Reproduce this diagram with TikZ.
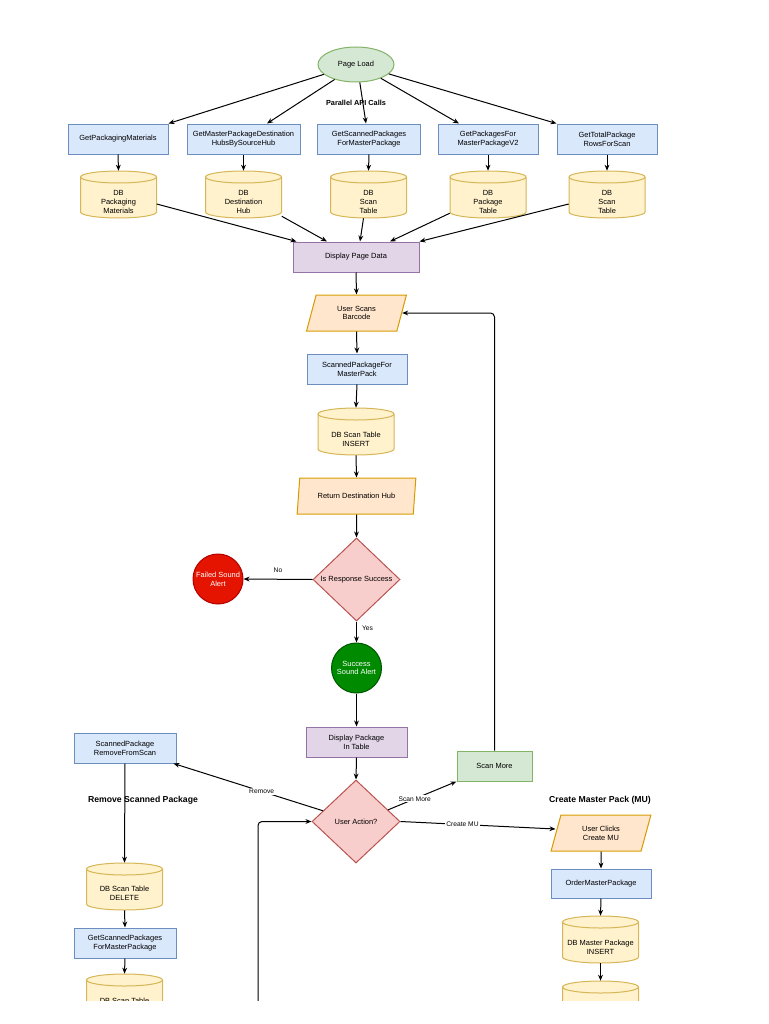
\documentclass[tikz,border=0pt]{standalone}
\usepackage{fontspec}
\setmainfont{Liberation Sans}
\usetikzlibrary{shapes.geometric,arrows.meta,calc}
\definecolor{blueF}{HTML}{DAE8FC}\definecolor{blueS}{HTML}{6C8EBF}
\definecolor{grnF}{HTML}{D5E8D4}\definecolor{grnS}{HTML}{82B366}
\definecolor{ylF}{HTML}{FFF2CC}\definecolor{ylS}{HTML}{D6B656}
\definecolor{orF}{HTML}{FFE6CC}\definecolor{orS}{HTML}{D79B00}
\definecolor{puF}{HTML}{E1D5E7}\definecolor{puS}{HTML}{9673A6}
\definecolor{pkF}{HTML}{F8CECC}\definecolor{pkS}{HTML}{B85450}
\definecolor{rdF}{HTML}{E51400}\definecolor{rdS}{HTML}{B20000}
\definecolor{dgF}{HTML}{008A00}\definecolor{dgS}{HTML}{005700}
\newcommand\pxu{0.75pt}
\newcommand\dbcyl[5]{%
  \path[cylshape] (#2-38,#3+6) -- (#2-38,#3+41) arc[start angle=180,end angle=0,x radius=38,y radius=6] -- (#2+38,#3+6) arc[start angle=0,end angle=-180,x radius=38,y radius=6] -- cycle;
  \draw[cylshape, fill=none] (#2-38,#3+6) arc[start angle=180,end angle=0,x radius=38,y radius=6];
  \node[cylnode] (#1) at (#2,#3+23.5) {};
  \node[base] (#1t) at (#2,#3+#5) {#4};
}
\begin{document}
\begin{tikzpicture}[x=0.75pt,y=-0.75pt,
  base/.style={font=\fontsize{5.6}{6.6}\selectfont, align=center, inner sep=0pt, line width=0.75pt},
  W/.style={minimum width=#1*\pxu},
  bluebox/.style={base, rectangle, draw=blueS, fill=blueF, minimum height=30*\pxu},
  purplebox/.style={base, rectangle, draw=puS, fill=puF, minimum height=30*\pxu},
  greenbox/.style={base, rectangle, draw=grnS, fill=grnF, minimum height=30*\pxu},
  para/.style={base, trapezium, trapezium left angle=72, trapezium right angle=108, trapezium stretches=true, draw=orS, fill=orF, minimum height=36*\pxu},
  dia/.style={base, diamond, draw=pkS, fill=pkF},
  circ/.style={base, circle, minimum size=50*\pxu, text=white},
  cylshape/.style={draw=ylS, fill=ylF, line width=0.75pt},
  cylnode/.style={rectangle, inner sep=0pt, minimum width=76*\pxu, minimum height=47*\pxu},
  conn/.style={line width=0.75pt, -{Stealth[length=4.5pt,width=3.6pt]}},
  elab/.style={font=\fontsize{5}{6}\selectfont, fill=white, inner sep=0.8pt},
  head/.style={font=\fontsize{6.5}{8}\selectfont\bfseries, inner sep=0pt}
]
\useasboundingbox (0,0) rectangle (768,1024);
\begin{scope}
\clip (0,0) rectangle (768,1000);

% top
\node[base, ellipse, draw=grnS, fill=grnF, minimum width=76*\pxu, minimum height=35*\pxu] (pl) at (356,64.5) {Page Load};
\node[base, font=\fontsize{5.5}{6.6}\selectfont\bfseries] (lblpar) at (356,103) {Parallel API Calls};

\node[bluebox, W=100] (b1) at (118,139) {GetPackagingMaterials};
\node[bluebox, W=113] (b2) at (243.5,139) {GetMasterPackageDestination\\HubsBySourceHub};
\node[bluebox, W=103] (b3) at (369,139) {GetScannedPackages\\ForMasterPackage};
\node[bluebox, W=100] (b4) at (488,139) {GetPackagesFor\\MasterPackageV2};
\node[bluebox, W=100] (b5) at (607,139) {GetTotalPackage\\RowsForScan};

\dbcyl{c1}{118.5}{171}{DB\\Packaging\\Materials}{31}
\dbcyl{c2}{243.5}{171}{DB\\Destination\\Hub}{31}
\dbcyl{c3}{368.5}{171}{DB\\Scan\\Table}{31}
\dbcyl{c4}{488}{171}{DB\\Package\\Table}{31}
\dbcyl{c5}{607}{171}{DB\\Scan\\Table}{31}

\node[purplebox, W=126] (dpd) at (356,257) {Display Page Data};

\node[para, minimum width=100*\pxu] (usb) at (356.5,313) {User Scans\\Barcode};
\node[bluebox, W=100] (spm) at (357,369) {ScannedPackageFor\\MasterPack};
\dbcyl{cins}{356}{408}{DB Scan Table\\INSERT}{31}
\node[para, minimum width=119*\pxu] (rdh) at (356.5,496) {Return Destination Hub};

\node[dia, minimum width=87*\pxu, minimum height=83*\pxu] (irs) at (356.5,579.5) {Is Response Success};
\node[circ, draw=rdS, fill=rdF] (fail) at (218,579) {Failed Sound\\Alert};
\node[circ, draw=dgS, fill=dgF] (succ) at (356.5,668) {Success\\Sound Alert};

\node[purplebox, W=101] (dpt) at (356.5,742) {Display Package\\In Table};
\node[dia, minimum width=88*\pxu, minimum height=83*\pxu] (ua) at (356,821.5) {User Action?};

% left branch
\node[bluebox, W=102] (rm) at (125,748) {ScannedPackage\\RemoveFromScan};
\node[head] (hrem) at (143,800) {Remove Scanned Package};
\dbcyl{cdel}{124.5}{863}{DB Scan Table\\DELETE}{30}
\node[bluebox, W=102] (gsp) at (125,943) {GetScannedPackages\\ForMasterPackage};
\dbcyl{clast}{124.5}{974}{DB Scan Table}{27}

% right branch
\node[greenbox, W=75] (sm) at (494.5,766) {Scan More};
\node[head] (hcmp) at (600,800) {Create Master Pack (MU)};
\node[para, minimum width=100*\pxu] (ucc) at (601,833) {User Clicks\\Create MU};
\node[bluebox, W=100, minimum height=29*\pxu] (omp) at (601,883.5) {OrderMasterPackage};
\dbcyl{cmi}{600.5}{916}{DB Master Package\\INSERT}{31}
\dbcyl{cml}{600.5}{981}{}{31}

% connectors top
\draw[conn] (pl.197) -- (b1.north east);
\draw[conn] (pl.215) -- ($(b2.north)+(23.5,0)$);
\draw[conn] (pl.282) -- ($(b3.north)+(-3,0)$);
\draw[conn] (pl.331) -- ($(b4.north)+(-29,0)$);
\draw[conn] (pl.344) -- (b5.north west);
\foreach \i in {1,...,5} {\draw[conn] (b\i.south) -- (c\i.north);}
\draw[conn] ($(c1.east)+(0,9.5)$) -- ($(dpd.north west)+(4,0)$);
\draw[conn] ($(c2.south east)+(0,-2)$) -- ($(dpd.north)+(-29,0)$);
\draw[conn] ($(c3.south)+(-5,0)$) -- ($(dpd.north)+(4,0)$);
\draw[conn] ($(c4.south west)+(0,-5)$) -- ($(dpd.north)+(34,0)$);
\draw[conn] ($(c5.west)+(0,9.5)$) -- (dpd.north east);

% main chain
\draw[conn] (dpd.south) -- (usb.north);
\draw[conn] (usb.south) -- (spm.north);
\draw[conn] (spm.south) -- (cins.north);
\draw[conn] (cins.south) -- (rdh.north);
\draw[conn] (rdh.south) -- (irs.north);
\draw[conn] (irs.west) -- node[elab, fill=none, above=4pt] {No} (fail.east);
\draw[conn] (irs.south) -- node[elab, fill=none, pos=0.3, right=3pt] {Yes} (succ.north);
\draw[conn] (succ.south) -- (dpt.north);
\draw[conn] (dpt.south) -- (ua.north);

% user action branches
\draw[conn] (ua.162) -- node[elab, pos=0.41] {Remove} ($(rm.south east)+(-3,0)$);
\draw[conn] (ua.20) -- node[elab, pos=0.39] {Scan More} (sm.south west);
\draw[conn] (ua.east) -- node[elab, pos=0.4] {Create MU} ($(ucc.west)+(0,-4)$);
\draw[conn, rounded corners=3pt] (sm.north) |- (usb.east);
\coordinate (loopstart) at (258,1010);
\draw[conn, rounded corners=3pt] (loopstart) |- (ua.west);

% left chain
\draw[conn] (rm.south) -- (cdel.north);
\draw[conn] (cdel.south) -- (gsp.north);
\draw[conn] (gsp.south) -- (clast.north);

% right chain
\draw[conn] (ucc.south) -- (omp.north);
\draw[conn] (omp.south) -- (cmi.north);
\draw[conn] (cmi.south) -- (cml.north);
\end{scope}
\end{tikzpicture}
\end{document}
